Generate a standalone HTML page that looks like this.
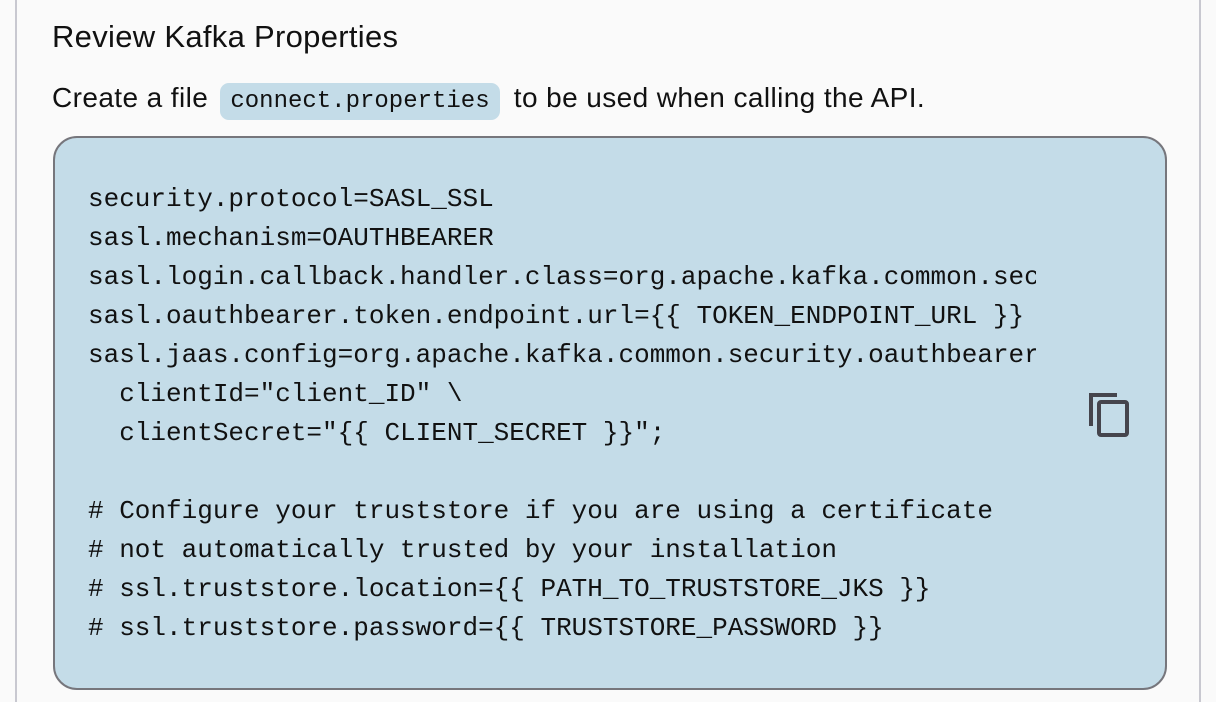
<!DOCTYPE html>
<html><head><style>
html,body{margin:0;padding:0;width:1216px;height:702px;overflow:hidden;background:#fafafa;font-family:"Liberation Sans",sans-serif;color:#111;}
.lb{position:absolute;left:15px;top:0;width:2px;height:702px;background:#c8c8d0;}
.rb{position:absolute;left:1199px;top:0;width:2px;height:702px;background:#c8c8d0;}
h1{position:absolute;left:52px;top:17px;margin:0;font-weight:normal;font-size:31px;line-height:40px;letter-spacing:0.3px;}
p{position:absolute;left:52px;top:79px;margin:0;font-size:28px;line-height:38px;white-space:nowrap;letter-spacing:0.4px;}
code.i{display:inline-block;font-family:"Liberation Mono",monospace;font-size:24px;line-height:37px;background:#c4dce8;border-radius:9px;padding:0 10px;margin:0 6px 0 4px;letter-spacing:0;}
.box{position:absolute;left:53px;top:136px;width:1110px;height:550px;background:#c4dce8;border:2px solid #76767c;border-radius:24px;}
pre{position:absolute;left:33px;top:42px;margin:0;width:948px;overflow:hidden;font-family:"Liberation Mono",monospace;font-size:26px;line-height:39px;color:#111;}
.cp{position:absolute;left:1034px;top:254px;}
</style></head><body>
<div class="lb"></div><div class="rb"></div>
<h1>Review Kafka Properties</h1>
<p>Create a file <code class="i">connect.properties</code> to be used when calling the API.</p>
<div class="box">
<pre>security.protocol=SASL_SSL
sasl.mechanism=OAUTHBEARER
sasl.login.callback.handler.class=org.apache.kafka.common.security
sasl.oauthbearer.token.endpoint.url={{ TOKEN_ENDPOINT_URL }}
sasl.jaas.config=org.apache.kafka.common.security.oauthbearer.OAuth
  clientId="client_ID" \
  clientSecret="{{ CLIENT_SECRET }}";

# Configure your truststore if you are using a certificate
# not automatically trusted by your installation
# ssl.truststore.location={{ PATH_TO_TRUSTSTORE_JKS }}
# ssl.truststore.password={{ TRUSTSTORE_PASSWORD }}</pre>
<svg class="cp" width="44" height="48" viewBox="0 0 44 48"><path d="M2 34 V3 H28" fill="none" stroke="#45454d" stroke-width="4"/><rect x="10" y="10" width="28" height="33" rx="2" fill="none" stroke="#45454d" stroke-width="4"/></svg>
</div>
</body></html>
